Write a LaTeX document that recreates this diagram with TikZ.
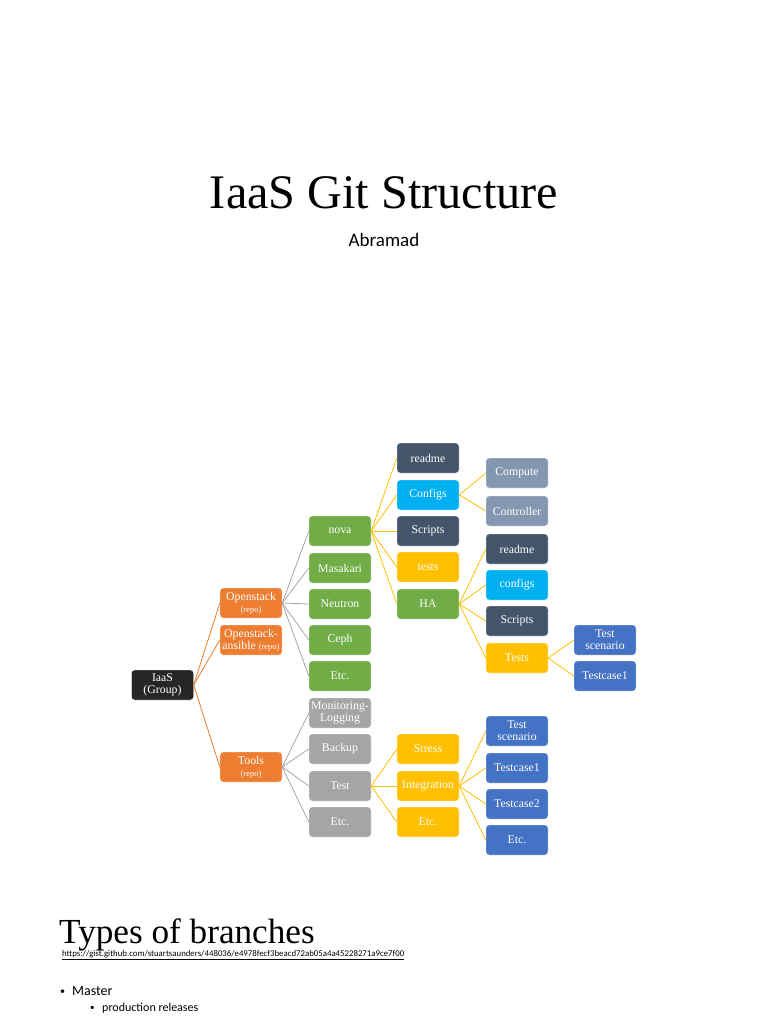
\documentclass[tikz,border=0pt]{standalone}
\usepackage{fontspec}
\setmainfont{Liberation Serif}
\newfontfamily\calibri{Carlito}
\definecolor{cblack}{HTML}{262626}
\definecolor{corange}{HTML}{ED7D31}
\definecolor{cgreen}{HTML}{70AD47}
\definecolor{cgray}{HTML}{A5A5A5}
\definecolor{cslate}{HTML}{44546A}
\definecolor{ccyan}{HTML}{00B0F0}
\definecolor{cgold}{HTML}{FFC000}
\definecolor{cgblue}{HTML}{8497B0}
\definecolor{cblue}{HTML}{4472C4}
\definecolor{cline}{HTML}{A6A6A6}
\begin{document}
\begin{tikzpicture}[x=1pt,y=-1pt,
  box/.style={rounded corners=3pt, minimum width=62pt, minimum height=30pt, inner sep=1pt,
    text=white, align=center, font=\fontsize{11.8}{12}\selectfont, draw=white, line width=0.4pt},
  lo/.style={corange, line width=0.8pt},
  lg/.style={cline, line width=0.8pt},
  ly/.style={cgold, line width=0.8pt}]
\useasboundingbox (0,0) rectangle (768,1024);
\fill[white] (0,0) rectangle (768,1024);
% titles
\node[font=\fontsize{48.2}{52}\selectfont] (title) at (384,193) {IaaS Git Structure};
\node[font=\calibri\fontsize{19}{22}\selectfont] (author) at (384,240) {Abramad};
% tree
\node[box, fill=cblack] (iaas) at (162.5,685) {IaaS\\(Group)};
\node[box, fill=corange] (os) at (251,603) {Openstack\\{\fontsize{8.5}{9}\selectfont(repo)}};
\node[box, fill=corange] (osa) at (251,640) {Openstack-\\ansible {\fontsize{8.5}{9}\selectfont(repo)}};
\node[box, fill=corange] (tools) at (251,767) {Tools\\{\fontsize{8.5}{9}\selectfont(repo)}};
\node[box, fill=cgreen] (nova) at (340,531) {nova};
\node[box, fill=cgreen] (masakari) at (340,568) {Masakari};
\node[box, fill=cgreen] (neutron) at (340,604) {Neutron};
\node[box, fill=cgreen] (ceph) at (340,640) {Ceph};
\node[box, fill=cgreen] (etcA) at (340,676) {Etc.};
\node[box, fill=cgray] (mon) at (340,713) {Monitoring-\\Logging};
\node[box, fill=cgray] (backup) at (340,749) {Backup};
\node[box, fill=cgray] (test) at (340,786) {Test};
\node[box, fill=cgray] (etcB) at (340,822) {Etc.};
\node[box, fill=cslate] (readme) at (428,458) {readme};
\node[box, fill=ccyan] (configs) at (428,495) {Configs};
\node[box, fill=cslate] (scripts) at (428,531) {Scripts};
\node[box, fill=cgold] (tests) at (428,567) {tests};
\node[box, fill=cgreen] (ha) at (428,604) {HA};
\node[box, fill=cgold] (stress) at (428,749) {Stress};
\node[box, fill=cgold] (integ) at (428,786) {Integration};
\node[box, fill=cgold] (etcC) at (428,822) {Etc.};
\node[box, fill=cgblue] (compute) at (517,473) {Compute};
\node[box, fill=cgblue] (controller) at (517,511) {Controller};
\node[box, fill=cslate] (hreadme) at (517,549) {readme};
\node[box, fill=ccyan] (hconfigs) at (517,585) {configs};
\node[box, fill=cslate] (hscripts) at (517,621) {Scripts};
\node[box, fill=cgold] (htests) at (517,658) {Tests};
\node[box, fill=cblue] (iscen) at (517,731) {Test\\scenario};
\node[box, fill=cblue] (itc1) at (517,768) {Testcase1};
\node[box, fill=cblue] (itc2) at (517,804) {Testcase2};
\node[box, fill=cblue] (ietc) at (517,840) {Etc.};
\node[box, fill=cblue] (tscen) at (605,640) {Test\\scenario};
\node[box, fill=cblue] (ttc1) at (605,676) {Testcase1};
% connectors
\foreach \c in {os,osa,tools} \draw[lo] (iaas.east) -- (\c.west);
\foreach \c in {nova,masakari,neutron,ceph,etcA} \draw[lg] (os.east) -- (\c.west);
\foreach \c in {mon,backup,test,etcB} \draw[lg] (tools.east) -- (\c.west);
\foreach \c in {readme,configs,scripts,tests,ha} \draw[ly] (nova.east) -- (\c.west);
\foreach \c in {compute,controller} \draw[ly] (configs.east) -- (\c.west);
\foreach \c in {hreadme,hconfigs,hscripts,htests} \draw[ly] (ha.east) -- (\c.west);
\foreach \c in {tscen,ttc1} \draw[ly] (htests.east) -- (\c.west);
\foreach \c in {stress,integ,etcC} \draw[ly] (test.east) -- (\c.west);
\foreach \c in {iscen,itc1,itc2,ietc} \draw[ly] (integ.east) -- (\c.west);
% bottom text
\node[font=\fontsize{35.2}{38}\selectfont, anchor=base west, inner sep=0pt] (types) at (59,943) {Types of branches};
\node[font=\calibri\fontsize{8.8}{9}\selectfont, anchor=base west, inner sep=0pt] (url) at (62,956) {\underline{https://gist.github.com/stuartsaunders/448036/e4978fecf3beacd72ab05a4a45228271a9ce7f00}};
\node[font=\calibri\fontsize{10}{12}\selectfont, anchor=base west, inner sep=0pt] (b1) at (60,994) {•};
\node[font=\calibri\fontsize{14}{16}\selectfont, anchor=base west, inner sep=0pt] (master) at (72,995) {Master};
\node[font=\calibri\fontsize{9}{12}\selectfont, anchor=base west, inner sep=0pt] (b2) at (90,1010) {•};
\node[font=\calibri\fontsize{12}{14}\selectfont, anchor=base west, inner sep=0pt] (prod) at (102,1011) {production releases};
\end{tikzpicture}
\end{document}
